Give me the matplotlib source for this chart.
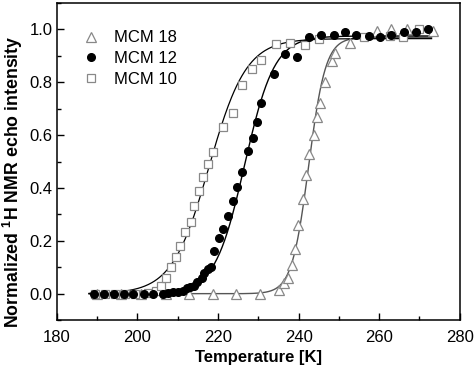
import numpy as np
import matplotlib
matplotlib.use("Agg")
import matplotlib.pyplot as plt
from matplotlib.ticker import MultipleLocator

plt.rcParams['font.family'] = ['Liberation Sans', 'DejaVu Sans']
plt.rcParams['mathtext.fontset'] = 'custom'
plt.rcParams['mathtext.bf'] = 'Liberation Sans:bold'
plt.rcParams['mathtext.rm'] = 'Liberation Sans'

# MCM 18 (open triangles)
t18 = [190, 196, 201, 207, 212.8, 218.7, 224.4, 230.4, 235.1, 236.3, 237.3, 238.3,
       239.0, 239.8, 241.1, 241.8, 242.5, 243.8, 244.5, 245.3, 246.5, 248.2, 249.0,
       252.7, 259.4, 263.0, 266.8, 273.3]
v18 = [0.0, 0.0, 0.0, 0.0, 0.0, 0.0, 0.0, 0.0, 0.015, 0.04, 0.06, 0.11,
       0.17, 0.26, 0.36, 0.45, 0.53, 0.60, 0.67, 0.72, 0.80, 0.88, 0.91,
       0.95, 0.995, 1.0, 1.0, 0.995]

# MCM 12 (filled circles)
t12 = [189.2, 191.7, 194.2, 196.6, 198.9, 201.6, 203.8, 206.3, 207.5, 208.8, 210.0,
       211.3, 212.3, 213.0, 214.0, 214.7, 216.0, 216.6, 217.6, 218.2, 219.1, 220.2,
       221.2, 222.4, 223.6, 224.8, 225.9, 227.4, 228.6, 229.6, 230.6, 233.8, 236.6,
       239.6, 242.5, 245.5, 248.7, 251.4, 254.2, 257.4, 260.1, 263.0, 266.2, 269.1,
       272.0]
v12 = [0.0, 0.0, 0.0, 0.0, 0.0, 0.0, 0.0, 0.0, 0.003, 0.005, 0.008,
       0.012, 0.02, 0.025, 0.03, 0.045, 0.06, 0.08, 0.095, 0.10, 0.16, 0.21,
       0.245, 0.295, 0.35, 0.405, 0.46, 0.54, 0.59, 0.65, 0.72, 0.83, 0.905,
       0.895, 0.97, 0.98, 0.98, 0.99, 0.98, 0.975, 0.97, 0.98, 0.99, 0.99,
       1.0]

# MCM 10 (open squares)
t10 = [189.5, 192, 194.5, 197, 199.5, 202.5, 204.5, 205.8, 207.0, 208.3, 209.5,
       210.5, 211.8, 213.2, 214.0, 215.3, 216.2, 217.5, 218.7, 221.2, 223.7, 225.9,
       228.4, 230.7, 234.3, 237.8, 241.5, 245.0, 256.2, 262.6, 266.0, 269.8]
v10 = [0.0, 0.0, 0.0, 0.0, 0.0, 0.003, 0.01, 0.03, 0.06, 0.10, 0.14,
       0.18, 0.235, 0.27, 0.33, 0.39, 0.44, 0.49, 0.535, 0.63, 0.685, 0.79,
       0.85, 0.885, 0.945, 0.95, 0.94, 0.965, 0.97, 0.975, 0.97, 1.0]

# Boltzmann fit parameters: plateau, centre, width
fit18 = (0.97, 242.5, 2.1)
fit12 = (0.975, 226.6, 3.7)
fit10 = (0.965, 217.8, 4.6)


def boltzmann(x, top, x0, dx):
    return top / (1 + np.exp(-(x - x0) / dx))


fig = plt.figure(figsize=(4.74, 3.68), dpi=100)
ax = fig.add_axes([0.120, 0.130, 0.850, 0.862])

tt = np.linspace(188, 273, 400)
ax.plot(tt, boltzmann(tt, *fit18), color='#555555', lw=1.0, zorder=1)
ax.plot(tt, boltzmann(tt, *fit12), color='black', lw=1.0, zorder=1)
ax.plot(tt, boltzmann(tt, *fit10), color='black', lw=0.9, zorder=1)

ax.plot(t18, v18, ls='none', marker='^', ms=6.5, mfc='white', mec='#888888',
        mew=0.9, label='MCM 18', zorder=2)
ax.plot(t12, v12, ls='none', marker='o', ms=5.5, mfc='black', mec='black',
        label='MCM 12', zorder=3)
ax.plot(t10, v10, ls='none', marker='s', ms=5.2, mfc='white', mec='#888888',
        mew=0.9, label='MCM 10', zorder=2)

ax.set_xlim(180, 280)
ax.set_ylim(-0.1, 1.1)
ax.xaxis.set_major_locator(MultipleLocator(20))
ax.xaxis.set_minor_locator(MultipleLocator(10))
ax.yaxis.set_major_locator(MultipleLocator(0.2))
ax.yaxis.set_minor_locator(MultipleLocator(0.1))
ax.set_yticks(np.arange(0, 1.01, 0.2))
ax.set_yticklabels(['0.0', '0.2', '0.4', '0.6', '0.8', '1.0'])
ax.tick_params(axis='both', which='both', direction='in', labelsize=12)
ax.tick_params(axis='x', pad=7)
ax.tick_params(axis='y', pad=3)
ax.tick_params(which='major', length=5, width=1)
ax.tick_params(which='minor', length=3, width=1)
for s in ax.spines.values():
    s.set_linewidth(1.1)

ax.set_xlabel('Temperature [K]', fontsize=12, fontweight='bold', labelpad=4)
ax.set_ylabel('Normalized $^{\\mathbf{1}}$H NMR echo intensity', fontsize=12.8,
              fontweight='bold')
ax.yaxis.set_label_coords(-0.08, 0.437)

ax.legend(loc='upper left', bbox_to_anchor=(0.035, 0.95), frameon=False,
          fontsize=12, handlelength=1.0, handletextpad=0.9, labelspacing=0.35,
          borderaxespad=0.3)

fig.savefig('out.png', dpi=100)
